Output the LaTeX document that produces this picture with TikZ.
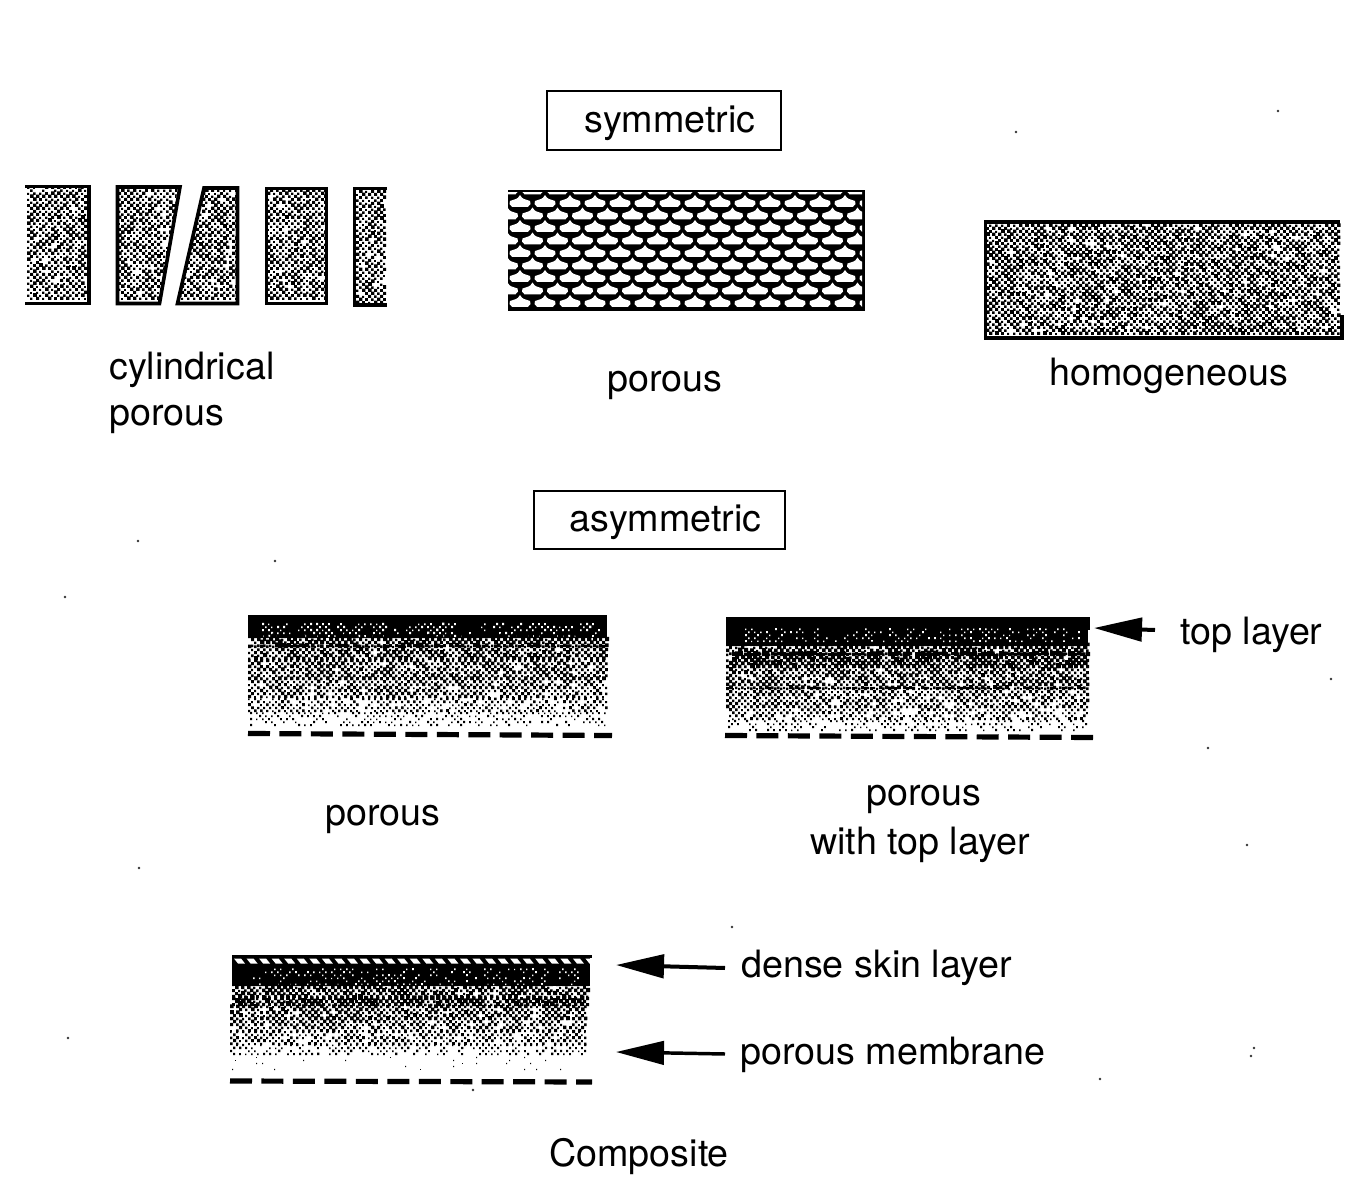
\documentclass[tikz,border=0pt]{standalone}
\usepackage{fontspec}
\setmainfont{TeX Gyre Heros}
\usetikzlibrary{arrows.meta}
\pgfmathsetseed{4711}
\newcount\stI \newcount\stJ \newcount\stN \newcount\stM \newdimen\stD
\def\stRow{\ifnum\stJ>\stM\else
  \stI=0 \stCol
  \pgfusepath{fill}%
  \advance\stJ by 1 \expandafter\stRow\fi}
\def\stCol{\ifnum\stI>\stN\else
  \ifodd\numexpr\stI+\stJ\relax\else
    \pgfmathrandominteger{\stR}{0}{99}%
    \ifnum\stR<\stP\relax
      \stD=\dimexpr\stS*(62+\stR*2/3)/100\relax
      \pgfpathrectangle{\pgfqpoint{\dimexpr0.75pt*\stXa+2.25pt*\stI\relax}{\dimexpr-0.75pt*\stYa-2.25pt*\stJ\relax}}{\pgfqpoint{\stD}{\stD}}%
    \fi
  \fi
  \advance\stI by 1 \expandafter\stCol\fi}
% colour, x0, y0, x1, y1, percent, dot size in tenths of a px
\newcommand\stipple[7]{\begin{pgfscope}\pgfsetfillcolor{#1}%
  \def\stXa{#2}\def\stYa{#3}\def\stP{#6}\edef\stS{\the\dimexpr0.75pt*#7/10\relax}%
  \stN=\numexpr(#4-#2-3)/3\relax \stM=\numexpr(#5-#3-1)/3\relax \stJ=0
  \stRow\end{pgfscope}}
\newcommand\scalepatch[2]{\fill[white,shift={(#1,#2)}] (0,0) .. controls (-1.5,2.5) and (-2.5,3.5) .. (-4,4) .. controls (-6,5) and (-8,5) .. (-10,6) -- (-10.5,9) -- (-8,11.8) -- (8,11.8) -- (10.5,9) -- (10,6) .. controls (8,5) and (6,5) .. (4,4) .. controls (2.5,3.5) and (1.5,2.5) .. (0,0) -- cycle;}
\tikzset{
  lbl/.style={anchor=base west,inner sep=0pt,font=\fontsize{28.25}{34}\selectfont,text=black},
  tagbox/.style={draw=black,line width=1.1pt,fill=white},
  frameln/.style={line width=2.7pt,draw=black,line cap=butt},
  dashln/.style={line width=3.9pt,draw=black,dash pattern=on 16.5pt off 7.1pt},
  pointer/.style={draw=black,line width=#1,-{Triangle[length=36pt,width=17.5pt]}},
  pointer/.default=2.6pt,
  speck/.style={fill=black!80}
}
\begin{document}
\begin{tikzpicture}[x=0.75pt,y=-0.75pt]
\useasboundingbox (0,0) rectangle (1361,1191);
\fill[white] (0,0) rectangle (1361,1191);

% --- labelled boxes
\path[tagbox] (547,91) rectangle (781,150);
\path[tagbox] (534,491) rectangle (785,549);
\node[lbl] (tagsym) at (584,133) {symmetric};
\node[lbl] (tagasym) at (569,531) {asymmetric};

% --- cylindrical porous
\begin{scope}\clip (25,187) rectangle (88,303); \stipple{black}{27}{189}{87}{302}{96}{30}\end{scope}
\draw[frameln] (25,186.5) -- (89,186.5) -- (89,303.5) -- (25,303.5);
\begin{scope}\clip (118,187) -- (178,187) -- (160,303) -- (118,303) -- cycle; \stipple{black}{118}{189}{178}{302}{96}{30}\end{scope}
\draw[frameln] (180,187) -- (117.5,187) -- (117.5,303.5) -- (159.5,303.5) -- cycle;
\begin{scope}\clip (205,188) -- (237,188) -- (237,303) -- (178,303) -- cycle; \stipple{black}{178}{189}{238}{302}{96}{30}\end{scope}
\draw[frameln] (204,188) -- (237.5,188) -- (237.5,303.5) -- (177.5,303.5) -- cycle;
\begin{scope}\clip (266,188) rectangle (327,303); \stipple{black}{267}{189}{327}{302}{96}{30}\end{scope}
\draw[frameln] (266.5,188.5) rectangle (326.5,303.5);
\begin{scope}\clip (355,188) rectangle (386,305); \stipple{black}{356}{190}{386}{304}{96}{30}\end{scope}
\draw[frameln] (387,188.5) -- (354.5,188.5) -- (354.5,305) -- (387,305);

% --- porous (scales)
\fill[black] (508,190) rectangle (865,311);
\begin{scope}
\clip (508,193) rectangle (862,306.5);
\foreach \k in {-1,1,3,5,7}{\foreach \n in {0,...,14}{\scalepatch{507.5+25*\n}{195+12.5*\k}}}
\foreach \k in {0,2,4,6,8}{\foreach \n in {0,...,14}{\scalepatch{520+25*\n}{195+12.5*\k}}}
\end{scope}

% --- homogeneous
\stipple{black}{986}{224}{1340}{337}{97}{31}
\draw[frameln] (1340,222) -- (985.5,222) -- (985.5,338) -- (1342,338) -- (1342,315);

% --- asymmetric porous
\fill[black] (248,615) rectangle (607,638);
\stipple{white}{262}{625}{600}{638}{62}{22}
\stipple{black}{248}{638}{607}{648}{97}{37}
\stipple{black}{248}{648}{607}{662}{97}{33}
\stipple{black}{248}{662}{607}{680}{96}{30}
\stipple{black}{248}{680}{607}{700}{92}{28}
\stipple{black}{248}{700}{607}{714}{82}{25}
\stipple{black}{250}{714}{607}{727}{60}{22}
\draw[dashln] (248,733.5) -- (612,735.5);

% --- asymmetric porous with top layer
\fill[black] (726,617) rectangle (1090,630);
\fill[black] (726,630) rectangle (1088,646);
\stipple{white}{745}{630}{1080}{643}{50}{20}
\stipple{black}{726}{646}{1088}{656}{97}{35}
\stipple{black}{726}{656}{1088}{668}{98}{39}
\stipple{black}{726}{668}{1088}{690}{96}{31}
\stipple{black}{726}{690}{1088}{708}{92}{28}
\stipple{black}{726}{708}{1088}{722}{82}{25}
\stipple{black}{728}{722}{1088}{732}{60}{22}
\draw[dashln] (725,735.5) -- (1093,737.5);

% --- composite
\fill[black] (232,955) rectangle (592,958);
\fill[black] (232,958) rectangle (590,986);
\begin{scope}
\clip (232,958.5) rectangle (590,963.5);
\foreach \n in {0,...,28}{\fill[white] (234+12.55*\n,958.5) -- (241+12.55*\n,958.5) -- (245+12.55*\n,963.5) -- (238+12.55*\n,963.5) -- cycle;}
\end{scope}
\stipple{white}{250}{970}{580}{985}{48}{20}
\stipple{black}{232}{986}{588}{1000}{97}{33}
\stipple{black}{232}{1000}{588}{1008}{98}{39}
\stipple{black}{230}{1008}{588}{1020}{96}{31}
\stipple{black}{230}{1020}{588}{1033}{93}{28}
\stipple{black}{230}{1033}{588}{1046}{84}{26}
\stipple{black}{230}{1046}{588}{1056}{66}{23}
\stipple{black}{232}{1058}{300}{1072}{14}{18}
\stipple{black}{300}{1058}{470}{1072}{7}{18}
\stipple{black}{470}{1058}{590}{1072}{9}{18}
\draw[dashln] (230,1081) -- (592,1082);

% --- pointers
\coordinate (toplayerTail) at (1155,630);
\coordinate (toplayerHead) at (1094,628);
\draw[pointer=3pt] (toplayerTail) -- (toplayerHead);
\coordinate (skinTail) at (725,968);
\coordinate (skinHead) at (616,965);
\draw[pointer=3pt] (skinTail) -- (skinHead);
\coordinate (membraneTail) at (725,1054);
\coordinate (membraneHead) at (616,1052);
\draw[pointer=2.6pt] (membraneTail) -- (membraneHead);

% --- labels
\node[lbl] (l1a) at (109,380) {cylindrical};
\node[lbl] (l1b) at (109,426) {porous};
\node[lbl] (l2) at (607,392) {porous};
\node[lbl] (l3) at (1049,386) {homogeneous};
\node[lbl] (l4) at (325,825) {porous};
\node[lbl] (l5a) at (866,805) {porous};
\node[lbl] (l5b) at (810,854) {with top layer};
\node[lbl] (l6) at (1180,644) {top layer};
\node[lbl] (l7) at (741,977) {dense skin layer};
\node[lbl] (l8) at (740,1064) {porous membrane};
\node[lbl] (l9) at (549,1166) {Composite};

% --- specks
\foreach \p in {(1278,111),(1016,132),(138,541),(275,561),(65,597),(1331,679),(1208,748),(1247,845),(139,868),(732,927),(68,1038),(1254,1048),(1251,1056),(1100,1079),(473,1090)}{\fill[speck] \p circle[radius=1.3];}
\end{tikzpicture}
\end{document}
